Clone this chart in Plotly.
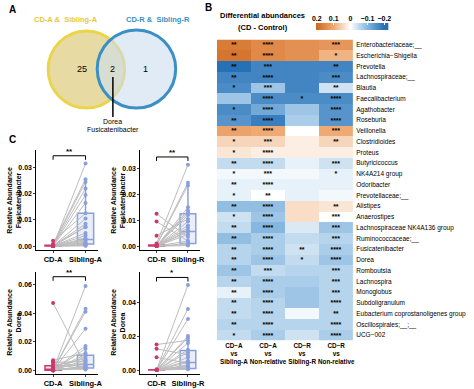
import numpy as np
import plotly.graph_objects as go

W, H = 474, 389
FONT = "Arial, Liberation Sans, sans-serif"


def px(x):
    return x / W


def py(y):
    return 1 - y / H


# ---------------- Panel A data ----------------
venn_sets = ["CD-A &  Sibling-A", "CD-R &  Sibling-R"]
venn_counts = [25, 2, 1]
shared_genera = ["Dorea", "Fusicatenibacter"]

# ---------------- Panel B data ----------------
genera = ["Enterobacteriaceae;__", "Escherichia−Shigella", "Prevotella", "Lachnospiraceae;__",
          "Blautia", "Faecalibacterium", "Agathobacter", "Roseburia", "Veillonella",
          "Clostridioides", "Proteus", "Butyricicoccus", "NK4A214 group", "Odoribacter",
          "Prevotellaceae;__", "Alistipes", "Anaerostipes", "Lachnospiraceae NK4A136 group",
          "Ruminococcaceae;__", "Fusicatenibacter", "Dorea", "Romboutsia", "Lachnospira",
          "Monoglobus", "Subdoligranulum", "Eubacterium coprostanoligenes group",
          "Oscillospirales;__;__", "UCG−002"]
comparisons = ["CD−A<br>vs<br>Sibling-A", "CD−A<br>vs<br>Non-relative",
               "CD−R<br>vs<br>Sibling-R", "CD−R<br>vs<br>Non-relative"]
diff_cda_sib = [0.17, 0.18, -0.22, -0.17, -0.16, -0.08, -0.16, -0.15, 0.11, 0.05, 0.03, -0.05, -0.01, -0.02,
                -0.02, -0.09, -0.04, -0.05, -0.09, -0.06, -0.06, -0.08, -0.06, -0.02, -0.05, -0.05, -0.06, -0.05]
diff_cda_non = [0.15, 0.15, -0.17, -0.17, -0.08, -0.16, -0.12, -0.18, 0.10, 0.05, 0.02, -0.05, -0.01, -0.02,
                0.0, -0.09, -0.08, -0.10, -0.07, -0.07, -0.08, -0.05, -0.07, -0.07, -0.06, -0.06, -0.06, -0.07]
diff_cdr_sib = [0.14, 0.14, -0.17, -0.17, -0.17, -0.16, -0.08, -0.07, 0.0, 0.02, 0.02, -0.02, -0.01, -0.02,
                -0.02, 0.04, 0.04, -0.03, -0.05, -0.04, -0.05, -0.06, -0.07, -0.08, -0.08, -0.01, -0.06, -0.04]
diff_cdr_non = [0.13, 0.09, -0.17, -0.16, -0.04, -0.16, -0.15, -0.15, 0.10, 0.05, 0.02, -0.04, -0.02, -0.02,
                -0.01, 0.03, 0.0, -0.08, -0.06, -0.07, -0.08, -0.06, -0.06, -0.06, -0.06, -0.06, -0.06, -0.07]
sig_cda_sib = ["**", "**", "**", "**", "*", "", "*", "**", "**", "*", "*", "**", "*", "**",
               "*", "**", "*", "**", "**", "**", "**", "**", "**", "**", "**", "**", "**", "*"]
sig_cda_non = ["****", "****", "***", "****", "***", "****", "****", "****", "****", "***", "****", "****", "***", "****",
               "**", "****", "****", "****", "****", "****", "****", "***", "****", "****", "****", "****", "****", "****"]
sig_cdr_sib = ["", "", "", "", "", "*", "", "", "", "", "", "", "", "",
               "", "", "", "", "", "**", "*", "", "", "", "", "", "", ""]
sig_cdr_non = ["***", "*", "**", "***", "**", "****", "****", "****", "***", "**", "", "***", "*", "",
               "", "**", "***", "***", "***", "****", "****", "***", "***", "***", "****", "**", "****", "****"]
legend_ticks = [0.2, 0.1, 0, -0.1, -0.2]
legend_ticktext = ["0.2", "0.1", "0", "−0.1", "−0.2"]

# ---------------- Panel C data ----------------
fus_cda = [0.002, 0.0008, 0.0005, 0.0003, 0.0002, 0.0001, 0, 0, 0, 0, 0, 0, 0, 0, 0, 0, 0, 0, 0, 0, 0, 0]
fus_siba = [0.0125, 0.0255, 0.0245, 0.022, 0.0195, 0.0165, 0.0315, 0.0105, 0.0085, 0.0075, 0.0072, 0.005,
            0.004, 0.003, 0.0025, 0.002, 0.0015, 0.001, 0.0007, 0.0004, 0.0002, 0.0001]
fus_cdr = [0.0125, 0.0095, 0.004, 0.001, 0.0005, 0.0003, 0, 0, 0, 0, 0, 0, 0, 0, 0, 0, 0, 0, 0, 0]
fus_sibr = [0.0035, 0.002, 0.0105, 0.0315, 0.0245, 0.0235, 0.015, 0.0138, 0.013, 0.012, 0.0095, 0.008,
            0.007, 0.006, 0.0055, 0.0045, 0.002, 0.001, 0.0006, 0.0002]
dor_cda = [0.047, 0.007, 0.006, 0.0055, 0.004, 0.003, 0.002, 0.0015, 0.001, 0.0005, 0, 0, 0, 0, 0, 0, 0, 0, 0, 0, 0, 0]
dor_siba = [0.003, 0.012, 0.002, 0.006, 0.001, 0.008, 0.004, 0.0005, 0.005, 0.0015, 0.059, 0.043, 0.041, 0.029,
            0.017, 0.015, 0.011, 0.0095, 0.007, 0.003, 0.002, 0.001]
dor_cdr = [0.015, 0.0125, 0.0075, 0.0005, 0, 0, 0, 0, 0, 0, 0, 0, 0, 0, 0, 0, 0, 0, 0, 0]
dor_sibr = [0.0175, 0.009, 0.004, 0.002, 0.050, 0.036, 0.030, 0.020, 0.019, 0.016, 0.012, 0.0105, 0.0075,
            0.0055, 0.0045, 0.003, 0.0025, 0.0015, 0.001, 0.0005]
# box statistics: [CD, Sibling] -> (lower, q1, median, q3, upper)
box_fus_a = [(0, 0, 0, 0.0003, 0.0008), (0, 0.0008, 0.0025, 0.0125, 0.0255)]
box_fus_r = [(0, 0, 0, 0.0004, 0.001), (0, 0.001, 0.0057, 0.0125, 0.0245)]
box_dor_a = [(0, 0, 0.0005, 0.003, 0.007), (0, 0.0015, 0.004, 0.0105, 0.017)]
box_dor_r = [(0, 0, 0, 0.0002, 0.0005), (0, 0.001, 0.0045, 0.0115, 0.02)]
panel_c_groups = [["CD-A", "Sibling-A"], ["CD-R", "Sibling-R"], ["CD-A", "Sibling-A"], ["CD-R", "Sibling-R"]]
panel_c_genus = ["Fusicatenibacter", "Fusicatenibacter", "Dorea", "Dorea"]
panel_c_sig = ["**", "**", "**", "*"]
panel_c_bracket = [0.0345, 0.0345, 0.0655, 0.0545]
panel_c_ticks = [[0.0, 0.01, 0.02, 0.03], [0.0, 0.01, 0.02, 0.03], [0.0, 0.02, 0.04, 0.06], [0.0, 0.02, 0.04]]
panel_c_range = [[-0.0015, 0.0367], [-0.0015, 0.0372], [-0.0027, 0.0688], [-0.0023, 0.0577]]

# ---------------- colours ----------------
colorscale = [[0.0, "#2670b6"], [0.25, "#86b7df"], [0.5, "#ffffff"], [0.75, "#efaa74"], [1.0, "#d0681e"]]
CD_COL = "#c93a6d"
SIB_COL = "#8a9fdc"

fig = go.Figure()

# ---------- Panel B heatmap ----------
cols = [diff_cda_sib, diff_cda_non, diff_cdr_sib, diff_cdr_non]
sigs = [sig_cda_sib, sig_cda_non, sig_cdr_sib, sig_cdr_non]
z = [[c[i] for c in cols] for i in range(len(genera))]
txt = [[s[i] for s in sigs] for i in range(len(genera))]
fig.add_trace(go.Heatmap(
    z=z, x=[0, 1, 2, 3], y=genera, text=txt, texttemplate="<b>%{text}</b>",
    textfont=dict(size=7, color="black", family=FONT),
    colorscale=colorscale, zmin=-0.2, zmax=0.2, showscale=False,
    xaxis="x", yaxis="y", hoverinfo="skip"))

# legend gradient strip
strip = np.linspace(0.205, -0.225, 120)
fig.add_trace(go.Heatmap(
    z=[strip], x=strip, y=[0], colorscale=colorscale, zmin=-0.2, zmax=0.2,
    showscale=False, xaxis="x2", yaxis="y2", hoverinfo="skip"))

# ---------- Panel C ----------
pairs = [(fus_cda, fus_siba, box_fus_a), (fus_cdr, fus_sibr, box_fus_r),
         (dor_cda, dor_siba, box_dor_a), (dor_cdr, dor_sibr, box_dor_r)]
for k, (cd, sib, bx) in enumerate(pairs):
    xa = "x%d" % (k + 3)
    ya = "y%d" % (k + 3)
    for j, (st, col, fill) in enumerate([(bx[0], CD_COL, "rgba(201,58,109,0.15)"),
                                         (bx[1], SIB_COL, "rgba(138,159,220,0.18)")]):
        fig.add_trace(go.Box(
            x=[j + 1], lowerfence=[st[0]], q1=[st[1]], median=[st[2]], q3=[st[3]], upperfence=[st[4]],
            width=0.5, line=dict(color=col, width=1.5), fillcolor=fill, boxpoints=False,
            whiskerwidth=0, xaxis=xa, yaxis=ya, showlegend=False, hoverinfo="skip"))
    lx, ly = [], []
    for a, b in zip(cd, sib):
        lx += [1, 2, None]
        ly += [a, b, None]
    fig.add_trace(go.Scatter(x=lx, y=ly, mode="lines", line=dict(color="#bdbdbd", width=1),
                             xaxis=xa, yaxis=ya, showlegend=False, hoverinfo="skip"))
    fig.add_trace(go.Scatter(x=[1] * len(cd), y=cd, mode="markers",
                             marker=dict(color=CD_COL, size=4), xaxis=xa, yaxis=ya,
                             showlegend=False, hoverinfo="skip"))
    fig.add_trace(go.Scatter(x=[2] * len(sib), y=sib, mode="markers",
                             marker=dict(color=SIB_COL, size=4), xaxis=xa, yaxis=ya,
                             showlegend=False, hoverinfo="skip"))

layout = dict(
    width=W, height=H, margin=dict(l=0, r=0, t=0, b=0),
    paper_bgcolor="white", plot_bgcolor="white", font=dict(family=FONT, color="black"),
    showlegend=False,
    xaxis=dict(domain=[px(217), px(356)], range=[-0.5, 3.5], tickvals=[0, 1, 2, 3],
               ticktext=["<b>%s</b>" % c for c in comparisons], tickfont=dict(size=6.3),
               tickangle=0, ticks="", showline=False, showgrid=False, zeroline=False, anchor="y"),
    yaxis=dict(domain=[py(340.5), py(39.5)], autorange="reversed", side="right",
               tickfont=dict(size=6.5), ticks="", showgrid=False, zeroline=False, anchor="x",
               ticklabelstandoff=2),
    xaxis2=dict(domain=[px(318), px(392)], range=[0.205, -0.225], side="top",
                tickvals=legend_ticks, ticktext=["<b>%s</b>" % t for t in legend_ticktext],
                tickfont=dict(size=7), tickangle=0, ticks="inside", ticklen=2, tickcolor="white",
                showgrid=False, zeroline=False, anchor="y2"),
    yaxis2=dict(domain=[py(30), py(23)], range=[-0.5, 0.5], visible=False, anchor="x2"),
)

xdoms = [[px(33), px(96)], [px(139), px(200)], [px(33), px(96)], [px(139), px(200)]]
ydoms = [[py(250), py(150)], [py(250), py(150)], [py(374), py(272)], [py(374), py(272)]]
for k in range(4):
    n = k + 3
    layout["xaxis%d" % n] = dict(
        domain=xdoms[k], range=[0.485, 2.39], tickvals=[1, 2],
        ticktext=["<b>%s</b>" % g for g in panel_c_groups[k]], tickfont=dict(size=7.5),
        tickangle=0, showline=True, linecolor="black", linewidth=1, ticks="outside", ticklen=2,
        showgrid=False, zeroline=False, anchor="y%d" % n)
    layout["yaxis%d" % n] = dict(
        domain=ydoms[k], range=panel_c_range[k], tickvals=panel_c_ticks[k],
        ticktext=["<b>%.2f</b>" % t for t in panel_c_ticks[k]], tickfont=dict(size=7),
        showline=True, linecolor="black", linewidth=1, ticks="outside", ticklen=2,
        showgrid=False, zeroline=False, anchor="x%d" % n)
fig.update_layout(**layout)

shapes = []
annos = []


def ann(x, y, text, size=8, color="black", bold=False, **kw):
    t = "<b>%s</b>" % text if bold else text
    d = dict(x=px(x), y=py(y), xref="paper", yref="paper", text=t, showarrow=False,
             xanchor="center", yanchor="middle",
             font=dict(size=size, color=color, family=FONT))
    d.update(kw)
    annos.append(d)


# ---------- Panel A: Venn ----------
shapes.append(dict(type="circle", xref="paper", yref="paper", x0=px(45), x1=px(123), y0=py(108), y1=py(31),
                   fillcolor="#e7dba3", line=dict(color="#ead548", width=3), layer="below"))
shapes.append(dict(type="circle", xref="paper", yref="paper", x0=px(95), x1=px(175), y0=py(108), y1=py(30),
                   fillcolor="rgba(205,222,238,0.6)", line=dict(color="#3a8fc4", width=3), layer="below"))
shapes.append(dict(type="line", xref="paper", yref="paper", x0=px(111), x1=px(111), y0=py(77), y1=py(117),
                   line=dict(color="black", width=1.5)))
ann(63, 19, venn_sets[0], size=7.5, color="#e8c83a", bold=True)
ann(157, 19, venn_sets[1], size=7.5, color="#3a8fc4", bold=True)
ann(79, 69, str(venn_counts[0]), size=9)
ann(111, 69, str(venn_counts[1]), size=9)
ann(144, 69, str(venn_counts[2]), size=9)
ann(111, 121, shared_genera[0], size=7)
ann(111, 129, shared_genera[1], size=7)

# panel letters
ann(9, 9, "A", size=10, bold=True)
ann(208, 8, "B", size=10, bold=True)
ann(9, 139, "C", size=10, bold=True)

# Panel B legend title
ann(264, 16, "Differential abundances", size=7.5, bold=True)
ann(264, 27, "(CD - Control)", size=7.5, bold=True)

# Panel C brackets, stars and y titles
ytitle_x = [10, 116, 10, 116]
ytitle_y = [200, 200, 322, 322]
for k in range(4):
    n = k + 3
    yb = panel_c_bracket[k]
    rng = panel_c_range[k]
    d = (rng[1] - rng[0]) * 0.04
    shapes.append(dict(type="path", xref="x%d" % n, yref="y%d" % n,
                       path="M 1 %f L 1 %f L 2 %f L 2 %f" % (yb - d, yb, yb, yb - d),
                       line=dict(color="black", width=1)))
    annos.append(dict(x=1.5, y=yb, xref="x%d" % n, yref="y%d" % n, text="<b>%s</b>" % panel_c_sig[k],
                      showarrow=False, yanchor="bottom", xanchor="center", yshift=-2,
                      font=dict(size=8, family=FONT, color="black")))
    ann(ytitle_x[k], ytitle_y[k], "Relative Abundance<br>%s" % panel_c_genus[k], size=7,
        bold=True, textangle=-90)

fig.update_layout(shapes=shapes, annotations=annos)
fig.write_html("out.html", config={"displayModeBar": False},
               post_script="document.body.style.margin='0';document.body.style.padding='0';")
